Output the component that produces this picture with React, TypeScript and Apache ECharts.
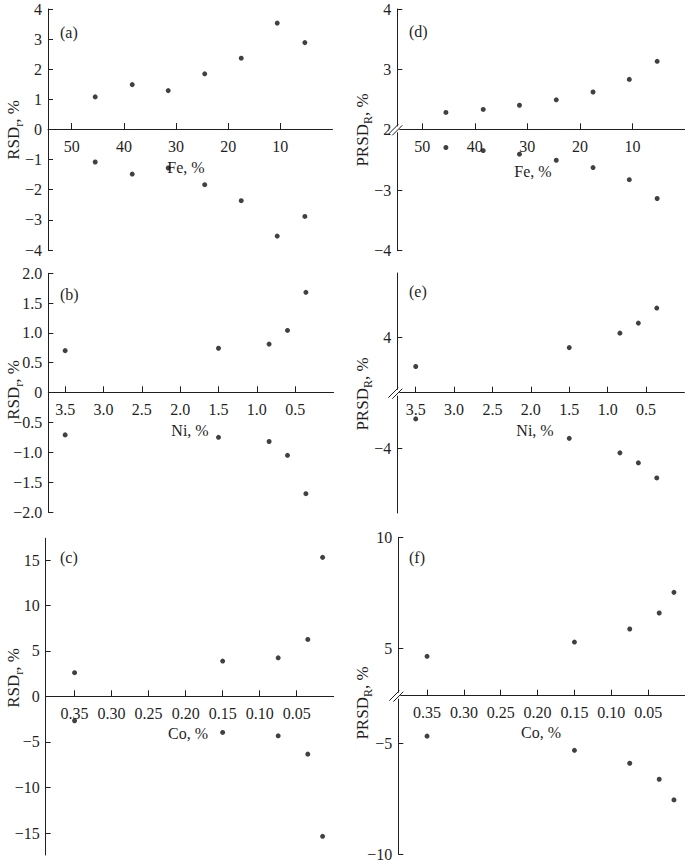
import React, { useEffect, useRef } from 'react';
import * as echarts from 'echarts';

// ---------- data ----------
const feConc = [45.5, 38.4, 31.5, 24.5, 17.5, 10.6, 5.3];
const feRsdPos = [1.07, 1.48, 1.28, 1.84, 2.36, 3.53, 2.88];
const feRsdNeg = [-1.09, -1.49, -1.29, -1.84, -2.37, -3.54, -2.89];
const fePrsdPos = [2.28, 2.33, 2.4, 2.49, 2.62, 2.83, 3.13];
const fePrsdNeg = [-2.3, -2.35, -2.41, -2.51, -2.63, -2.83, -3.14];

const niConc = [3.5, 1.5, 0.84, 0.6, 0.36];
const niRsdPos = [0.7, 0.74, 0.81, 1.04, 1.68];
const niRsdNeg = [-0.71, -0.75, -0.82, -1.05, -1.69];
const niPrsdPos = [3.47, 3.81, 4.07, 4.25, 4.52];
const niPrsdNeg = [-3.47, -3.82, -4.08, -4.26, -4.53];

const coConc = [0.35, 0.15, 0.075, 0.035, 0.015];
const coRsdPos = [2.6, 3.88, 4.24, 6.26, 15.3];
const coRsdNeg = [-2.68, -3.96, -4.33, -6.34, -15.35];
const coPrsdPos = [4.64, 5.28, 5.87, 6.59, 7.52];
const coPrsdNeg = [-4.68, -5.32, -5.9, -6.62, -7.55];

// tick labels
const feTicks = [10, 20, 30, 40, 50];
const niTicks = [0.5, 1.0, 1.5, 2.0, 2.5, 3.0, 3.5];
const coTicks = [0.05, 0.1, 0.15, 0.2, 0.25, 0.3, 0.35];
const aYTicksUp = [0, 1, 2, 3, 4];
const aYTicksLow = [-4, -3, -2, -1];
const bYTicksUp = [0, 0.5, 1, 1.5, 2];
const bYTicksLow = [-2, -1.5, -1, -0.5];
const cYTicksUp = [0, 5, 10, 15];
const cYTicksLow = [-15, -10, -5];
const dYTicksUp = [3, 4];
const dYLabelsUp = [2, 3, 4];
const dYTicksLow = [-4, -3];
const eYTicksUp = [4];
const eYTicksLow = [-4];
const fYTicksUp = [5, 10];
const fYTicksLow = [-10, -5];

// ---------- style ----------
const FONT = 'Liberation Serif';
const INK = '#1f1f1f';
const MINUS = '\u2212';
const fmtInt = (v: number) => String(v).replace('-', MINUS);
const fmt1 = (v: number) => (v === 0 ? '0' : v.toFixed(1).replace('-', MINUS));
const fmt2 = (v: number) => v.toFixed(2);

type GridDef = {
  left: number; top: number; width: number; height: number;
  xMax: number; xTicks: number[]; xFmt: (v: number) => string; showX: boolean;
  yMin: number; yMax: number; yTicks: number[]; yLabels: number[]; yFmt: (v: number) => string;
  xs: number[]; ys: number[];
};

const grids: GridDef[] = [
  // (a)
  { left: 48, top: 9, width: 284.5, height: 120, xMax: 54.55, xTicks: feTicks, xFmt: fmtInt, showX: true,
    yMin: 0, yMax: 4, yTicks: aYTicksUp, yLabels: aYTicksUp, yFmt: fmtInt, xs: feConc, ys: feRsdPos },
  { left: 48, top: 129, width: 284.5, height: 121, xMax: 54.55, xTicks: feTicks, xFmt: fmtInt, showX: false,
    yMin: -4, yMax: 0, yTicks: aYTicksLow, yLabels: aYTicksLow, yFmt: fmtInt, xs: feConc, ys: feRsdNeg },
  // (b)
  { left: 48.3, top: 273.3, width: 285.2, height: 119, xMax: 3.72, xTicks: niTicks, xFmt: fmt1, showX: true,
    yMin: 0, yMax: 2, yTicks: bYTicksUp, yLabels: bYTicksUp, yFmt: fmt1, xs: niConc, ys: niRsdPos },
  { left: 48.3, top: 392.3, width: 285.2, height: 120, xMax: 3.72, xTicks: niTicks, xFmt: fmt1, showX: false,
    yMin: -2, yMax: 0, yTicks: bYTicksLow, yLabels: bYTicksLow, yFmt: fmt1, xs: niConc, ys: niRsdNeg },
  // (c)
  { left: 45.7, top: 538.3, width: 288, height: 158, xMax: 0.389, xTicks: coTicks, xFmt: fmt2, showX: true,
    yMin: 0, yMax: 17.4, yTicks: cYTicksUp, yLabels: cYTicksUp, yFmt: fmtInt, xs: coConc, ys: coRsdPos },
  { left: 45.7, top: 696.3, width: 288, height: 158.7, xMax: 0.389, xTicks: coTicks, xFmt: fmt2, showX: false,
    yMin: -17.4, yMax: 0, yTicks: cYTicksLow, yLabels: cYTicksLow, yFmt: fmtInt, xs: coConc, ys: coRsdNeg },
  // (d)
  { left: 397.3, top: 9, width: 287.7, height: 120.3, xMax: 54.75, xTicks: feTicks, xFmt: fmtInt, showX: true,
    yMin: 2, yMax: 4, yTicks: dYTicksUp, yLabels: dYLabelsUp, yFmt: fmtInt, xs: feConc, ys: fePrsdPos },
  { left: 397.3, top: 129.3, width: 287.7, height: 121.4, xMax: 54.75, xTicks: feTicks, xFmt: fmtInt, showX: false,
    yMin: -4, yMax: -2, yTicks: dYTicksLow, yLabels: dYTicksLow, yFmt: fmtInt, xs: feConc, ys: fePrsdNeg },
  // (e)
  { left: 397.3, top: 273, width: 287.1, height: 119.7, xMax: 3.74, xTicks: niTicks, xFmt: fmt1, showX: true,
    yMin: 3, yMax: 5.15, yTicks: eYTicksUp, yLabels: eYTicksUp, yFmt: fmtInt, xs: niConc, ys: niPrsdPos },
  { left: 397.3, top: 392.7, width: 287.1, height: 120.3, xMax: 3.74, xTicks: niTicks, xFmt: fmt1, showX: false,
    yMin: -5.16, yMax: -3, yTicks: eYTicksLow, yLabels: eYTicksLow, yFmt: fmtInt, xs: niConc, ys: niPrsdNeg },
  // (f)
  { left: 398.3, top: 537.3, width: 287.4, height: 158.4, xMax: 0.389, xTicks: coTicks, xFmt: fmt2, showX: true,
    yMin: 2.865, yMax: 10, yTicks: fYTicksUp, yLabels: fYTicksUp, yFmt: fmtInt, xs: coConc, ys: coPrsdPos },
  { left: 398.3, top: 695.7, width: 287.4, height: 158.6, xMax: 0.389, xTicks: coTicks, xFmt: fmt2, showX: false,
    yMin: -10, yMax: -2.86, yTicks: fYTicksLow, yLabels: fYTicksLow, yFmt: fmtInt, xs: coConc, ys: coPrsdNeg },
];

const panelLabels = [
  { t: '(a)', x: 60, y: 32 }, { t: '(b)', x: 60, y: 294 }, { t: '(c)', x: 60, y: 557 },
  { t: '(d)', x: 409, y: 31 }, { t: '(e)', x: 409, y: 291 }, { t: '(f)', x: 409, y: 557 },
];
const xNames = [
  { t: 'Fe, %', x: 186, y: 167 }, { t: 'Ni, %', x: 190, y: 430 }, { t: 'Co, %', x: 188, y: 733 },
  { t: 'Fe, %', x: 533, y: 171 }, { t: 'Ni, %', x: 535, y: 430 }, { t: 'Co, %', x: 541, y: 732 },
];
const yNames = [
  { main: 'RSD', sub: 'r', x: 13, y: 130 }, { main: 'RSD', sub: 'r', x: 13, y: 390 },
  { main: 'RSD', sub: 'r', x: 13, y: 678 },
  { main: 'PRSD', sub: 'R', x: 362, y: 130 }, { main: 'PRSD', sub: 'R', x: 362, y: 394 },
  { main: 'PRSD', sub: 'R', x: 362, y: 703 },
];
const breaks = [
  { x: 397.3, y: 129.3 }, { x: 397.3, y: 392.7 }, { x: 398.3, y: 695.7 },
];

export default function App() {
  const ref = useRef<HTMLDivElement>(null);
  useEffect(() => {
    if (!ref.current) return;
    const chart = echarts.init(ref.current, undefined, { renderer: 'svg' });

    const lineStyle = { color: INK, width: 1 };
    const graphic: any[] = [];
    panelLabels.forEach((p) =>
      graphic.push({ type: 'text', x: p.x, y: p.y, style: { text: p.t, fontFamily: FONT, fontSize: 16, fill: INK, align: 'left', verticalAlign: 'middle' } })
    );
    xNames.forEach((p) =>
      graphic.push({ type: 'text', x: p.x, y: p.y, style: { text: p.t, fontFamily: FONT, fontSize: 16, fill: INK, align: 'center', verticalAlign: 'middle' } })
    );
    yNames.forEach((p) =>
      graphic.push({
        type: 'text', x: p.x, y: p.y, rotation: Math.PI / 2,
        style: {
          text: `{m|${p.main}}{s|${p.sub}}{m|, %}`,
          align: 'center', verticalAlign: 'middle', fill: INK,
          rich: {
            m: { fontFamily: FONT, fontSize: 17, lineHeight: 24, fill: INK, verticalAlign: 'middle' },
            s: { fontFamily: FONT, fontSize: 12, lineHeight: 12, fill: INK, verticalAlign: 'bottom' },
          },
        },
      })
    );
    breaks.forEach((b) => {
      graphic.push({ type: 'rect', shape: { x: b.x - 2, y: b.y - 3, width: 4, height: 6 }, style: { fill: '#fff' }, z: 50 });
      graphic.push({ type: 'line', shape: { x1: b.x - 9, y1: b.y + 5, x2: b.x + 1, y2: b.y - 5 }, style: { stroke: INK, lineWidth: 1 }, z: 51 });
      graphic.push({ type: 'line', shape: { x1: b.x - 5, y1: b.y + 6, x2: b.x + 5, y2: b.y - 4 }, style: { stroke: INK, lineWidth: 1 }, z: 51 });
    });

    const series: any[] = grids.map((g, i) => ({
      type: 'scatter', xAxisIndex: i, yAxisIndex: i, symbol: 'circle', symbolSize: 5,
      itemStyle: { color: '#111' }, data: g.xs.map((x, k) => [x, g.ys[k]]), z: 10,
    }));

    chart.setOption({
      animation: false,
      backgroundColor: '#fff',
      grid: grids.map((g) => ({ left: g.left, top: g.top, width: g.width, height: g.height, containLabel: false })),
      xAxis: grids.map((g, i) => ({
        type: 'value', gridIndex: i, min: 0, max: g.xMax, inverse: true, show: g.showX,
        position: 'bottom',
        axisLine: { show: true, onZero: false, lineStyle },
        axisTick: { show: true, inside: true, length: 6, lineStyle, customValues: g.xTicks },
        axisLabel: {
          show: true, customValues: g.xTicks, margin: 9, color: INK, fontFamily: FONT, fontSize: 16,
          formatter: (v: number) => g.xFmt(v),
        },
        splitLine: { show: false },
      })),
      yAxis: grids.map((g, i) => ({
        type: 'value', gridIndex: i, min: g.yMin, max: g.yMax,
        axisLine: { show: true, onZero: false, lineStyle },
        axisTick: { show: true, inside: true, length: 5, lineStyle, customValues: g.yTicks },
        axisLabel: {
          show: true, customValues: g.yLabels, margin: 6, color: INK, fontFamily: FONT, fontSize: 16,
          formatter: (v: number) => g.yFmt(v),
        },
        splitLine: { show: false },
      })),
      series,
      graphic,
    });
    return () => chart.dispose();
  }, []);
  return <div ref={ref} style={{ position: 'absolute', left: 0, top: 0, width: 685, height: 865 }} />;
}
